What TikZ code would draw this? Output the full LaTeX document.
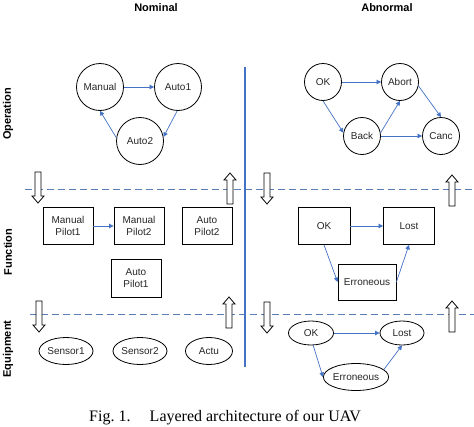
\documentclass[tikz,border=0pt]{standalone}
\usepackage{fontspec}
\setmainfont{Liberation Sans}
\newfontfamily\capfont{Liberation Serif}
\usetikzlibrary{arrows.meta,shapes.geometric}
\definecolor{lineblue}{HTML}{4472C4}
\definecolor{dashblue}{HTML}{5B7FB5}
\begin{document}
\begin{tikzpicture}[x=1pt,y=-1pt,
  txt/.style={font=\fontsize{10}{11.5}\selectfont, text=black!85},
  opcirc/.style={circle, draw, line width=0.8pt, minimum size=#1, inner sep=0pt, txt},
  fbox/.style={rectangle, draw, line width=0.8pt, minimum width=#1, minimum height=37pt, inner sep=1pt, align=center, txt},
  eqell/.style 2 args={ellipse, draw, line width=0.8pt, minimum width=#1, minimum height=#2, inner sep=0pt, txt},
  conn/.style={draw=lineblue, line width=0.7pt, -{Triangle[length=4.5pt,width=4.5pt]}},
  sepline/.style={draw=dashblue, dash pattern=on 7pt off 4pt, line width=0.8pt},
  hollow/.style={draw=black, line width=0.8pt, fill=white},
  head/.style={font=\bfseries\fontsize{11}{13}\selectfont},
  downarr/.pic={\path[hollow] (-3,0) -- (-3,24) -- (-6,24) -- (0,31) -- (6,24) -- (3,24) -- (3,0) -- cycle;},
  uparr/.pic={\path[hollow] (-3,0) -- (-3,-24) -- (-6,-24) -- (0,-31) -- (6,-24) -- (3,-24) -- (3,0) -- cycle;},
]
\useasboundingbox (0,0) rectangle (474,426);
\clip (0,0) rectangle (474,426);

% headings
\node[head] (hnom) at (156,8) {Nominal};
\node[head] (habn) at (387,8) {Abnormal};
\node[head, rotate=90] (lop) at (8,114) {Operation};
\node[head, rotate=90] (lfn) at (8,252) {Function};
\node[head, rotate=90] (leq) at (8,349) {Equipment};

% separators
\coordinate (d1a) at (25,189.5); \coordinate (d1b) at (474,189.5);
\coordinate (d2a) at (30,314); \coordinate (d2b) at (474,314);
\path[sepline] (d1a) -- (d1b);
\path[sepline] (d2a) -- (d2b);
\coordinate (va) at (245,67); \coordinate (vb) at (245,367);
\draw[lineblue, line width=1.6pt] (va) -- (vb);

% hollow arrows
\pic at (38,172) {downarr};
\pic at (230,204) {uparr};
\pic at (267,173) {downarr};
\pic at (452,206) {uparr};
\pic at (39,301) {downarr};
\pic at (229,328) {uparr};
\pic at (267,302) {downarr};
\pic at (452,332) {uparr};

% operation nominal
\node[opcirc=47pt] (man) at (100,87) {Manual};
\node[opcirc=47pt] (au1) at (178,87) {Auto1};
\node[opcirc=47pt] (au2) at (140,141) {Auto2};
\path[conn] (man) -- (au1);
\path[conn] (au1.-92) -- (au2.10);
\path[conn] (au2.172) -- (man.-90);

% operation abnormal
\node[opcirc=37pt] (ok) at (323,82) {OK};
\node[opcirc=37pt] (abort) at (400,82) {Abort};
\node[opcirc=37pt] (back) at (362,136) {Back};
\node[opcirc=37pt] (canc) at (441,136) {Canc};
\path[conn] (ok) -- (abort);
\path[conn] (ok.-90) -- (back.170);
\path[conn] (back.10) -- (abort.-90);
\path[conn] (back) -- (canc);
\path[conn] (abort.-12) -- (canc.90);

% function nominal
\node[fbox=50pt] (mp1) at (68,226) {Manual\\Pilot1};
\node[fbox=50pt] (mp2) at (139,226) {Manual\\Pilot2};
\node[fbox=50pt] (ap2) at (207,226) {Auto\\Pilot2};
\node[fbox=50pt, minimum height=38pt] (ap1) at (136,278) {Auto\\Pilot1};
\path[conn] (mp1) -- (mp2);

% function abnormal
\node[fbox=52pt] (fok) at (324,226) {OK};
\node[fbox=51pt] (flost) at (409,226) {Lost};
\node[fbox=58pt, minimum height=36pt] (ferr) at (367,282) {Erroneous};
\path[conn] (fok) -- (flost);
\path[conn] (fok.south) -- (ferr.west);
\path[conn] (ferr.east) -- (flost.south);

% equipment nominal
\node[eqell={54pt}{27pt}] (s1) at (66,351) {Sensor1};
\node[eqell={54pt}{27pt}] (s2) at (140,351) {Sensor2};
\node[eqell={47pt}{27pt}] (act) at (209,351) {Actu};

% equipment abnormal
\node[eqell={45pt}{24pt}] (eok) at (311,333) {OK};
\node[eqell={44pt}{24pt}] (elost) at (402,333) {Lost};
\node[eqell={62pt}{27pt}] (eerr) at (356,377) {Erroneous};
\path[conn] (eok) -- (elost);
\path[conn] (eok.-80) -- (eerr.180);
\path[conn] (eerr.15) -- (elost.-90);

% caption
\node[anchor=base west, inner sep=0pt, font=\capfont\fontsize{16}{18}\selectfont] (cap) at (89,421.5) {Fig.~1.\hspace{1.2em}Layered architecture of our UAV};
\end{tikzpicture}
\end{document}
